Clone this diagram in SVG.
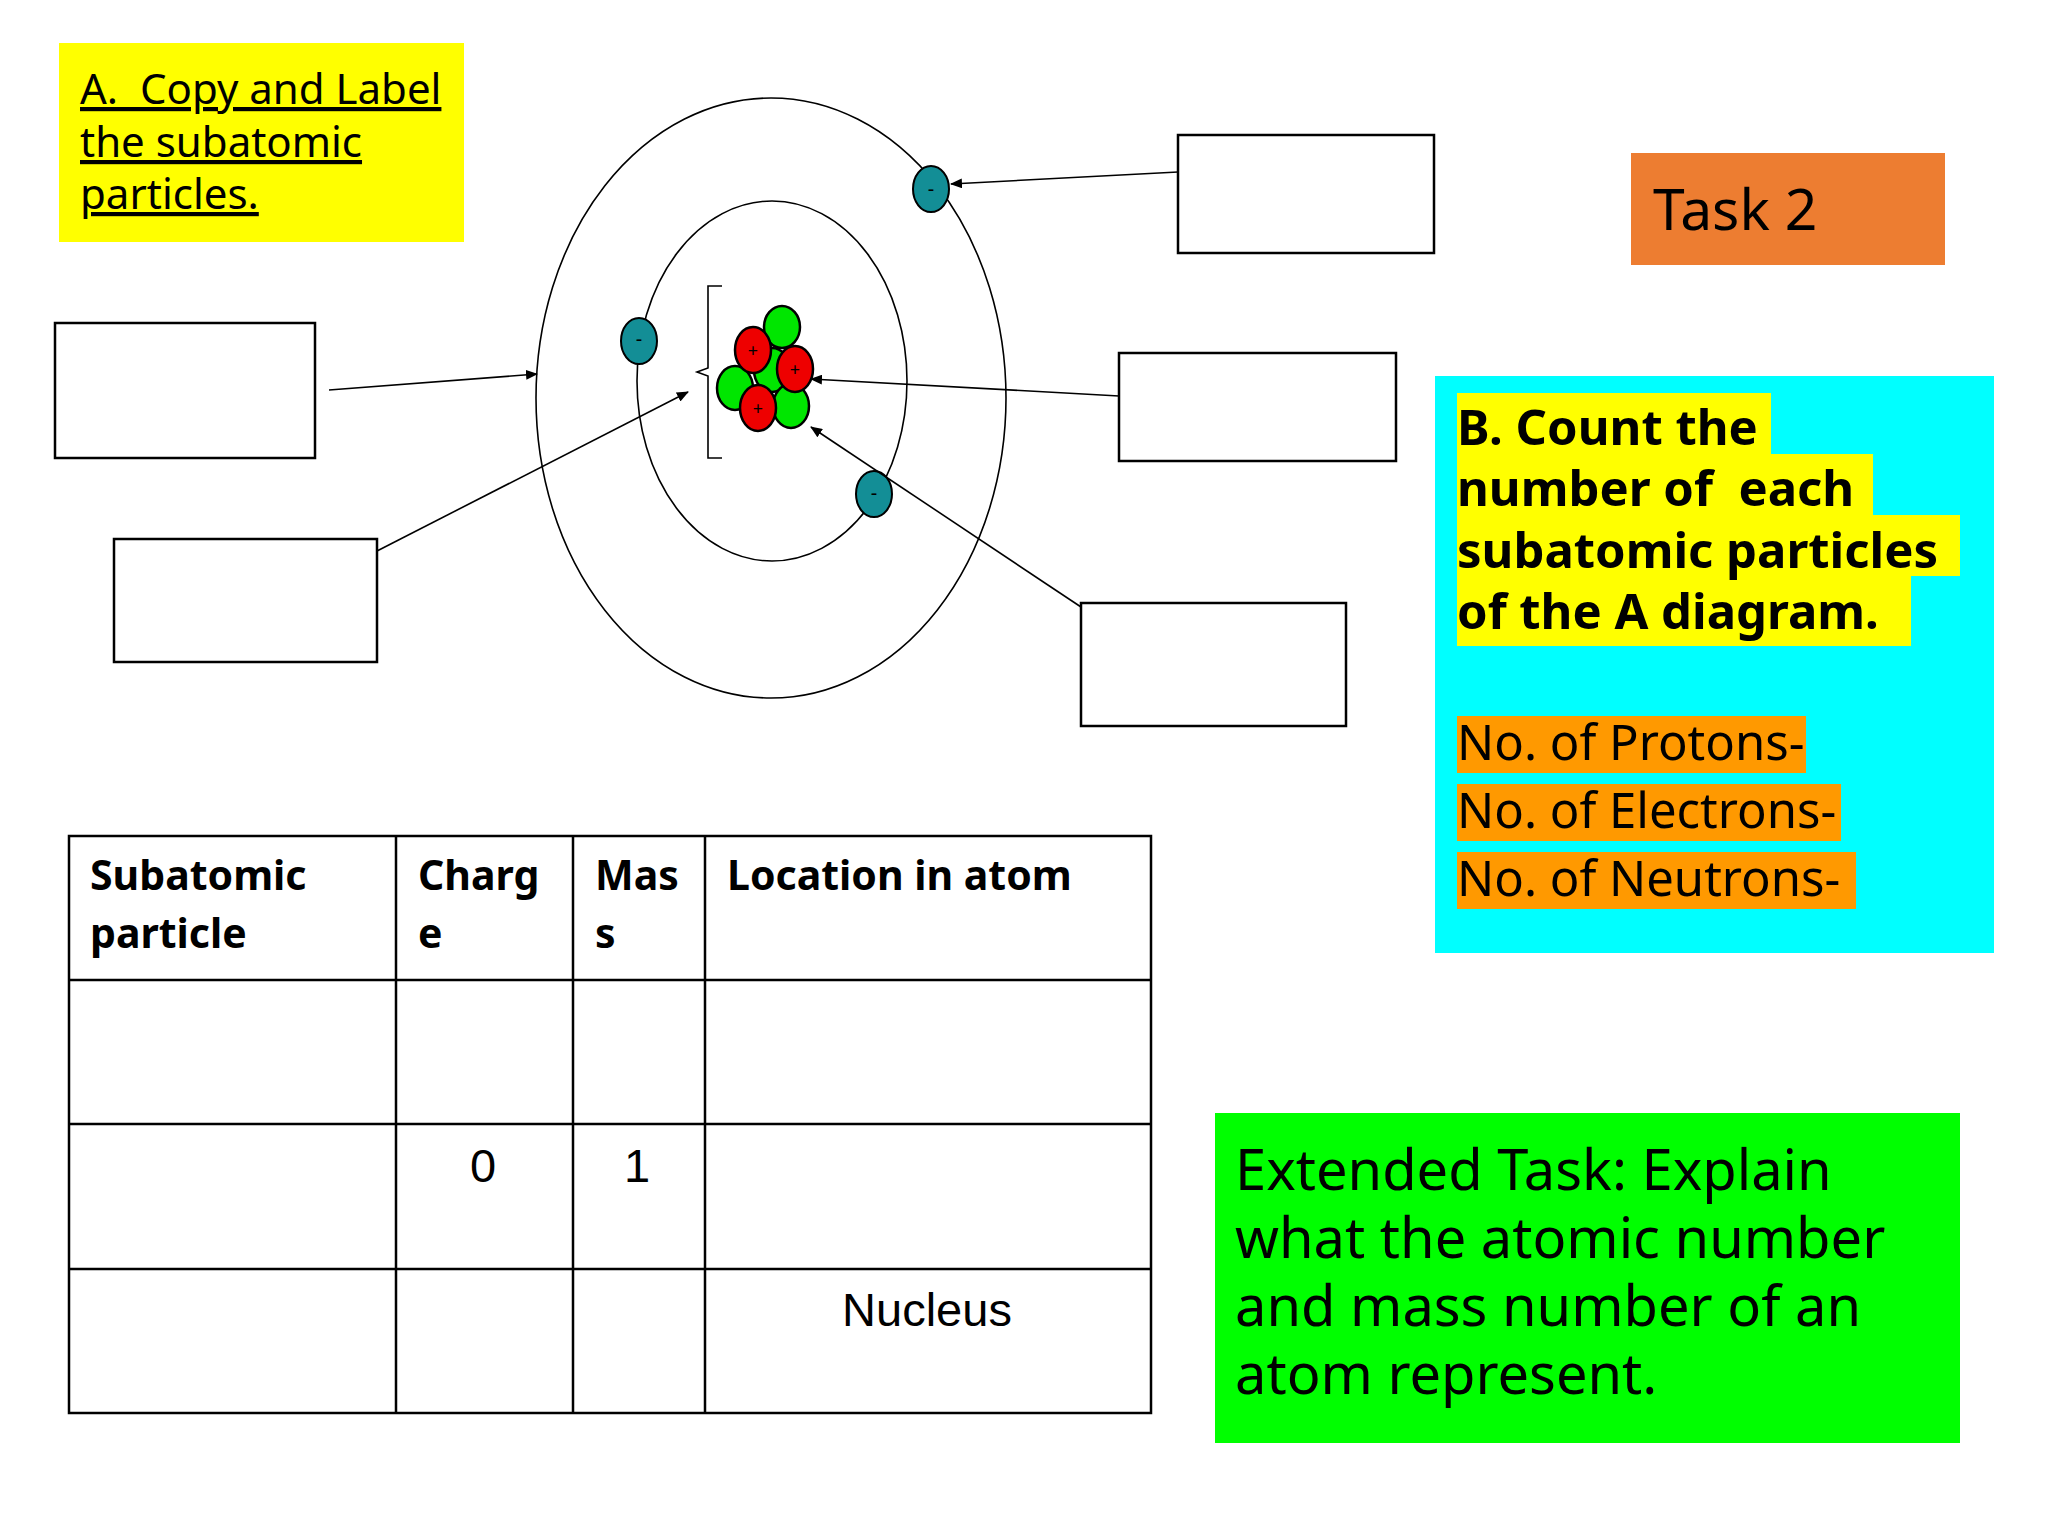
<svg xmlns="http://www.w3.org/2000/svg" width="2048" height="1536" viewBox="0 0 2048 1536">
<defs>
<marker id="ah" markerWidth="12" markerHeight="10" refX="11" refY="5" orient="auto" markerUnits="userSpaceOnUse"><path d="M0,0 L12,5 L0,10 Z" fill="#000"/></marker>
<style>
text{font-family:"Noto Sans","Open Sans",sans-serif;fill:#000}
.b{font-weight:bold}
.box{fill:#fff;stroke:#000;stroke-width:2.5}
.e{fill:#138e96;stroke:#000;stroke-width:2}
.g{fill:#00e600;stroke:#000;stroke-width:2.5}
.r{fill:#ee0000;stroke:#000;stroke-width:2.5}
.ln{stroke:#000;stroke-width:1.6;fill:none}
.tb{stroke:#000;stroke-width:2.5;fill:none}
.ar{font-family:"Liberation Sans",Arial,sans-serif;font-size:47px}
</style>
</defs>
<rect width="2048" height="1536" fill="#fff"/>
<g id="titleA">
<rect x="59" y="43" width="405" height="199" fill="#ffff00"/>
<text x="80" y="104" font-size="42" text-decoration="underline">A.&#160; Copy and Label</text>
<text x="80" y="157" font-size="42" text-decoration="underline">the subatomic</text>
<text x="80" y="209" font-size="42" text-decoration="underline">particles.</text>
</g>
<g id="atom">
<ellipse cx="771" cy="398" rx="235" ry="300" class="ln" stroke-width="2.8"/>
<ellipse cx="772" cy="381" rx="135" ry="180" class="ln" stroke-width="2.8"/>
<path d="M722,286 L708,286 L708,368 L697,372 L708,376 L708,458 L722,458" class="ln" stroke-width="2"/>
<ellipse cx="782" cy="327" rx="18" ry="21" class="g"/>
<ellipse cx="735" cy="388" rx="18" ry="22" class="g"/>
<ellipse cx="772" cy="370" rx="18" ry="22" class="g"/>
<ellipse cx="791" cy="406" rx="18" ry="22" class="g"/>
<ellipse cx="753" cy="350" rx="18" ry="23" class="r"/>
<ellipse cx="795" cy="369" rx="18" ry="23" class="r"/>
<ellipse cx="758" cy="408" rx="18" ry="23" class="r"/>
<text x="753" y="357" font-size="18" text-anchor="middle">+</text>
<text x="795" y="376" font-size="18" text-anchor="middle">+</text>
<text x="758" y="415" font-size="18" text-anchor="middle">+</text>
<ellipse cx="931" cy="189" rx="18" ry="23" class="e"/>
<ellipse cx="639" cy="341" rx="18" ry="23" class="e"/>
<ellipse cx="874" cy="494" rx="18" ry="23" class="e"/>
<text x="931" y="196" font-size="20" text-anchor="middle">-</text>
<text x="639" y="346" font-size="20" text-anchor="middle">-</text>
<text x="874" y="500" font-size="20" text-anchor="middle">-</text>
</g>
<g id="labelboxes">
<rect x="1178" y="135" width="256" height="118" class="box"/>
<rect x="55" y="323" width="260" height="135" class="box"/>
<rect x="114" y="539" width="263" height="123" class="box"/>
<rect x="1119" y="353" width="277" height="108" class="box"/>
<rect x="1081" y="603" width="265" height="123" class="box"/>
</g>
<g id="connectors">
<line x1="1178" y1="172" x2="951" y2="184" class="ln" marker-end="url(#ah)"/>
<line x1="329" y1="390" x2="537" y2="374" class="ln" marker-end="url(#ah)"/>
<line x1="377" y1="551" x2="688" y2="392" class="ln" marker-end="url(#ah)"/>
<line x1="1119" y1="396" x2="811" y2="379" class="ln" marker-end="url(#ah)"/>
<line x1="1081" y1="607" x2="811" y2="427" class="ln" marker-end="url(#ah)"/>
</g>
<g id="task2">
<rect x="1631" y="153" width="314" height="112" fill="#ed7d31"/>
<text x="1653" y="230" font-size="57">Task 2</text>
</g>
<g id="taskB">
<rect x="1435" y="376" width="559" height="577" fill="#00ffff"/>
<rect x="1457" y="393" width="314" height="61" fill="#ffff00"/>
<rect x="1457" y="454" width="416" height="61" fill="#ffff00"/>
<rect x="1457" y="515" width="503" height="61" fill="#ffff00"/>
<rect x="1457" y="576" width="454" height="70" fill="#ffff00"/>
<text x="1457" y="445" font-size="49" class="b">B. Count the</text>
<text x="1457" y="506" font-size="49" class="b">number of&#160; each</text>
<text x="1457" y="568" font-size="49" class="b">subatomic particles</text>
<text x="1457" y="629" font-size="49" class="b">of the A diagram.</text>
<rect x="1457" y="716" width="349" height="57" fill="#ff9900"/>
<rect x="1457" y="784" width="384" height="57" fill="#ff9900"/>
<rect x="1457" y="852" width="399" height="57" fill="#ff9900"/>
<text x="1457" y="760" font-size="49">No. of Protons-</text>
<text x="1457" y="828" font-size="49">No. of Electrons-</text>
<text x="1457" y="896" font-size="49">No. of Neutrons-</text>
</g>
<g id="table">
<rect x="69" y="836" width="1082" height="577" class="tb"/>
<path d="M396,836V1413M573,836V1413M705,836V1413M69,980H1151M69,1124H1151M69,1269H1151" class="tb"/>
<text x="90" y="890" font-size="41" class="b">Subatomic</text>
<text x="90" y="948" font-size="41" class="b">particle</text>
<text x="418" y="890" font-size="41" class="b">Charg</text>
<text x="418" y="948" font-size="41" class="b">e</text>
<text x="595" y="890" font-size="41" class="b">Mas</text>
<text x="595" y="948" font-size="41" class="b">s</text>
<text x="727" y="890" font-size="41" class="b">Location in atom</text>
<text x="483" y="1182" class="ar" text-anchor="middle">0</text>
<text x="637" y="1182" class="ar" text-anchor="middle">1</text>
<text x="927" y="1326" class="ar" text-anchor="middle">Nucleus</text>
</g>
<g id="extended">
<rect x="1215" y="1113" width="745" height="330" fill="#00ff00"/>
<text x="1235" y="1190" font-size="56">Extended Task: Explain</text>
<text x="1235" y="1258" font-size="56">what the atomic number</text>
<text x="1235" y="1326" font-size="56">and mass number of an</text>
<text x="1235" y="1394" font-size="56">atom represent.</text>
</g>
</svg>
